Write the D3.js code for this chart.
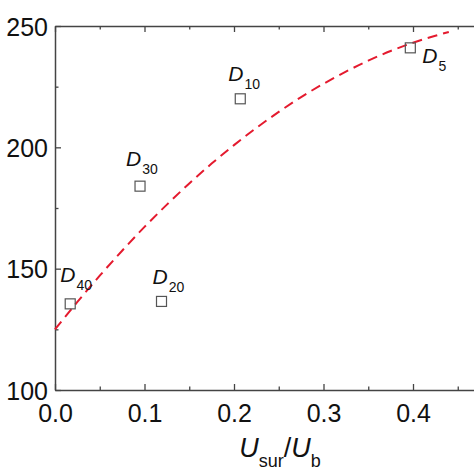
<!DOCTYPE html>
<html>
<head>
<meta charset="utf-8">
<script src="https://cdn.jsdelivr.net/npm/d3@7"></script>
<style>
  body { margin: 0; background: #fff; }
  svg { display: block; }
  text { font-family: "Liberation Sans", Arial, sans-serif; fill: #111; }
</style>
</head>
<body>
<div id="chart"></div>
<script>
// Measured points (Usur/Ub, D)
const pointNames = ['40', '30', '20', '10', '5'];
const pointX = [0.017, 0.095, 0.119, 0.207, 0.397];
const pointY = [135.5, 184, 136.5, 220, 241];

// Fitted trend (red dashed)
const fitX = [0, 0.025, 0.05, 0.075, 0.1, 0.125, 0.15, 0.175, 0.2, 0.225, 0.25,
              0.275, 0.3, 0.325, 0.35, 0.375, 0.4, 0.425, 0.44];
const fitY = [125, 136.3, 147.1, 157.4, 167.2, 176.4, 185.1, 193.3, 200.9, 208.0, 214.6,
              220.7, 226.2, 231.2, 235.7, 239.7, 243.1, 246.0, 247.5];

const xMajor = [0, 0.1, 0.2, 0.3, 0.4];
const xMinor = [0.05, 0.15, 0.25, 0.35, 0.45];
const yMajor = [100, 150, 200, 250];
const yMinor = [125, 175, 225];

// label offsets from each square (layout only)
const labelOffset = {
  '40': [-10, -22], '30': [-14, -20], '20': [-9, -17],
  '10': [-12, -18], '5': [12, 15]
};

const W = 474, H = 474;
const plotLeft = 55, plotTop = 26, plotBottom = 390;

const svg = d3.select('#chart').append('svg')
  .attr('width', W).attr('height', H);

const x = d3.scaleLinear().domain([0, 0.47]).range([plotLeft, plotLeft + 0.47 * 895]);
const y = d3.scaleLinear().domain([100, 250]).range([plotBottom, plotTop]);

const axisColor = '#444';

function styleAxis(g) {
  g.select('.domain').attr('stroke', axisColor).attr('stroke-width', 1.5);
  g.selectAll('.tick line').attr('stroke', axisColor).attr('stroke-width', 1.3);
}

// bottom axis
svg.append('g')
  .attr('transform', `translate(0,${plotBottom})`)
  .call(d3.axisBottom(x).tickValues(xMajor).tickSizeInner(-6).tickSizeOuter(0)
    .tickFormat(d3.format('.1f')))
  .call(styleAxis)
  .call(g => g.selectAll('text').attr('y', 14).attr('dy', '0.71em')
    .style('font-size', '25px').attr('fill', '#111'));
svg.append('g')
  .attr('transform', `translate(0,${plotBottom})`)
  .call(d3.axisBottom(x).tickValues(xMinor).tickSizeInner(-3.5).tickSizeOuter(0).tickFormat(''))
  .call(styleAxis)
  .call(g => g.select('.domain').remove());

// top axis
svg.append('g')
  .attr('transform', `translate(0,${plotTop})`)
  .call(d3.axisTop(x).tickValues(xMajor).tickSizeInner(-6).tickSizeOuter(0).tickFormat(''))
  .call(styleAxis);
svg.append('g')
  .attr('transform', `translate(0,${plotTop})`)
  .call(d3.axisTop(x).tickValues(xMinor).tickSizeInner(-3.5).tickSizeOuter(0).tickFormat(''))
  .call(styleAxis)
  .call(g => g.select('.domain').remove());

// left axis
svg.append('g')
  .attr('transform', `translate(${plotLeft},0)`)
  .call(d3.axisLeft(y).tickValues(yMajor).tickSizeInner(-6).tickSizeOuter(0))
  .call(styleAxis)
  .call(g => g.selectAll('text').attr('x', -7).attr('dy', '0.36em')
    .style('font-size', '25px').attr('fill', '#111'));
svg.append('g')
  .attr('transform', `translate(${plotLeft},0)`)
  .call(d3.axisLeft(y).tickValues(yMinor).tickSizeInner(-3.5).tickSizeOuter(0).tickFormat(''))
  .call(styleAxis)
  .call(g => g.select('.domain').remove());

// fitted curve
const line = d3.line().x(d => x(d[0])).y(d => y(d[1])).curve(d3.curveMonotoneX);
svg.append('path')
  .datum(d3.zip(fitX, fitY))
  .attr('d', line)
  .attr('fill', 'none')
  .attr('stroke', '#e41a2e')
  .attr('stroke-width', 2)
  .attr('stroke-dasharray', '10,6');

// squares
const pts = d3.zip(pointNames, pointX, pointY);
svg.append('g').selectAll('rect')
  .data(pts)
  .enter()
  .append('rect')
  .attr('x', d => x(d[1]) - 5)
  .attr('y', d => y(d[2]) - 5)
  .attr('width', 10).attr('height', 10)
  .attr('fill', 'none')
  .attr('stroke', '#555')
  .attr('stroke-width', 1.2);

// point labels
const labels = svg.append('g').selectAll('text')
  .data(pts)
  .enter()
  .append('text')
  .attr('x', d => x(d[1]) + labelOffset[d[0]][0])
  .attr('y', d => y(d[2]) + labelOffset[d[0]][1])
  .style('font-size', '21px');
labels.append('tspan').style('font-style', 'italic').text('D');
labels.append('tspan').attr('dx', 1).attr('dy', 8).style('font-size', '14px').text(d => d[0]);

// axis title
const title = svg.append('text')
  .attr('x', 280).attr('y', 457)
  .attr('text-anchor', 'middle')
  .style('font-size', '27px');
title.append('tspan').style('font-style', 'italic').text('U');
title.append('tspan').attr('dy', 10).style('font-size', '18px').text('sur');
title.append('tspan').attr('dy', -10).text('/');
title.append('tspan').style('font-style', 'italic').text('U');
title.append('tspan').attr('dy', 10).style('font-size', '18px').text('b');
</script>
</body>
</html>
